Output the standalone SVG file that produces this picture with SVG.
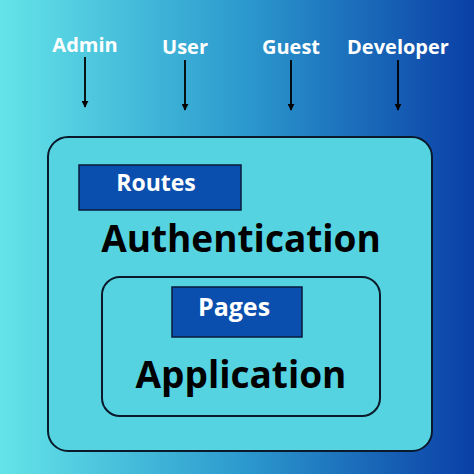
<svg xmlns="http://www.w3.org/2000/svg" width="474" height="474" viewBox="0 0 474 474">
  <style>
    .lbl { font-family: "Open Sans", "Liberation Sans", sans-serif; font-weight: 700; fill: #ffffff; text-anchor: middle; }
    .big { font-family: "Open Sans", "Liberation Sans", sans-serif; font-weight: 700; fill: #000000; text-anchor: middle; }
    .box { fill: #56d3e0; stroke: #0a1a2a; stroke-width: 2; }
    .tag { fill: #0a4fae; stroke: #0a1a3a; stroke-width: 1.5; }
    .arr { stroke: #000000; stroke-width: 1.8; fill: none; marker-end: url(#ah); }
  </style>
  <defs>
    <linearGradient id="bg" x1="0" y1="0" x2="1" y2="0">
      <stop offset="0" stop-color="#64e4e8"/>
      <stop offset="0.5" stop-color="#2d9ccf"/>
      <stop offset="1" stop-color="#0a3fa6"/>
    </linearGradient>
    <marker id="ah" viewBox="0 0 10 10" refX="9" refY="5" markerWidth="7" markerHeight="7" orient="auto" markerUnits="userSpaceOnUse">
      <path d="M0,0 L10,5 L0,10 z" fill="#000000"/>
    </marker>
  </defs>
  <rect x="0" y="0" width="474" height="474" fill="url(#bg)"/>

  <g id="admin"><text class="lbl" x="85" y="52" font-size="20">Admin</text></g>
  <g id="user"><text class="lbl" x="185" y="54" font-size="20">User</text></g>
  <g id="guest"><text class="lbl" x="291" y="54" font-size="20">Guest</text></g>
  <g id="developer"><text class="lbl" x="398" y="54" font-size="20">Developer</text></g>

  <g id="connectors">
    <line class="arr" x1="85" y1="57" x2="85" y2="107"/>
    <line class="arr" x1="185" y1="60" x2="185" y2="110"/>
    <line class="arr" x1="291" y1="60" x2="291" y2="110"/>
    <line class="arr" x1="398" y1="60" x2="398" y2="110"/>
  </g>

  <g id="authentication">
    <rect class="box" x="48" y="137" width="384" height="314" rx="20"/>
    <text class="big" x="241" y="252" font-size="37">Authentication</text>
  </g>
  <g id="routes">
    <rect class="tag" x="79" y="165" width="162" height="45"/>
    <text class="lbl" x="156" y="191" font-size="23">Routes</text>
  </g>
  <g id="application">
    <rect class="box" x="102" y="277" width="278" height="139" rx="18"/>
    <text class="big" x="241" y="388" font-size="37">Application</text>
  </g>
  <g id="pages">
    <rect class="tag" x="172" y="287" width="130" height="50"/>
    <text class="lbl" x="234" y="316" font-size="25">Pages</text>
  </g>
</svg>
